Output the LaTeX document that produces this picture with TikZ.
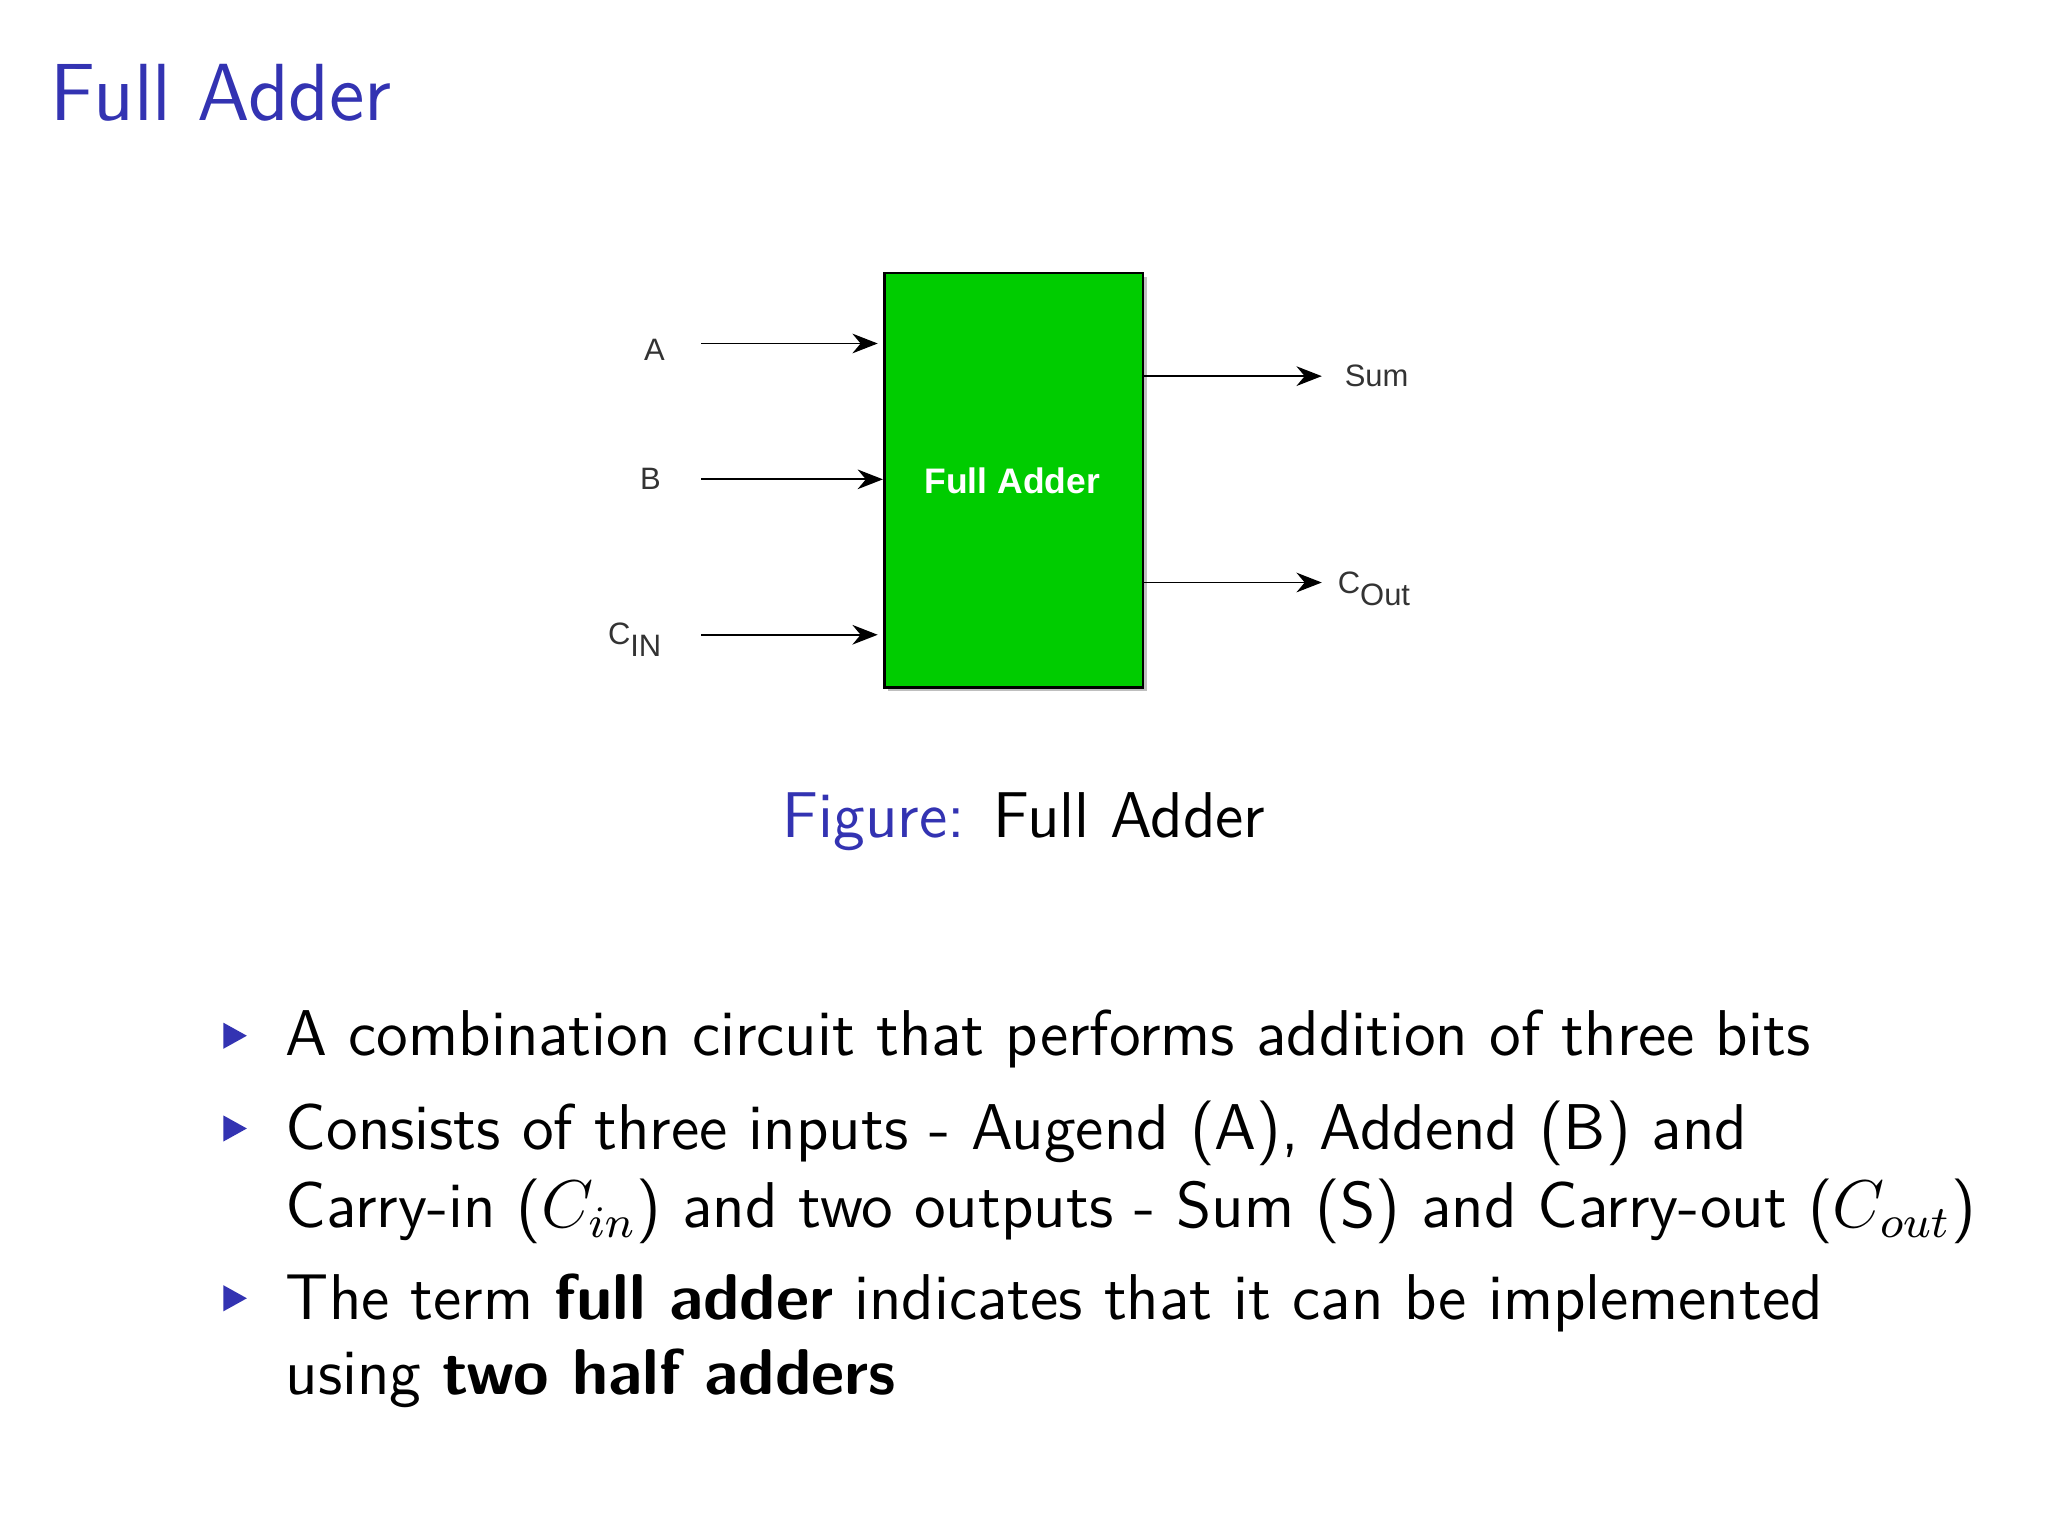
\documentclass[tikz,border=0pt]{standalone}
\usepackage{fontspec}
\newfontfamily\arial{Liberation Sans}
\usetikzlibrary{arrows.meta}
\definecolor{bblue}{RGB}{51,51,178}
\definecolor{fagreen}{RGB}{0,204,0}
\tikzset{
  sig/.style={-{Stealth[length=4.5pt,width=3.5pt]}, line width=0.3pt},
  lbl/.style={font=\arial\fontsize{5.5}{6}\selectfont, text=black!80},
  body/.style={anchor=base west, inner sep=0, font=\sffamily\fontsize{11.5}{13}\selectfont},
  bul/.style={fill=bblue, draw=none},
}
\begin{document}
\begin{tikzpicture}[x=0.2321pt,y=-0.2321pt]
\useasboundingbox (0,0) rectangle (1568,1176);
\fill[white] (0,0) rectangle (1568,1176);
\node[anchor=base west, inner sep=0, text=bblue, font=\sffamily\fontsize{14.4}{16}\selectfont] (title) at (38,92) {Full Adder};
% block
\fill[black!25] (680,212) rectangle (878,529);
\node[draw=black, line width=0.5pt, fill=fagreen, minimum width=198*0.2321pt, minimum height=317*0.2321pt, inner sep=0, anchor=north west] (fa) at (676,208) {};
\node[text=white, font=\arial\bfseries\fontsize{6.3}{7}\selectfont] (fat) at (775,368) {Full Adder};
\coordinate (a0) at (537,263); \coordinate (a1) at (672,263);
\coordinate (b0) at (537,367); \coordinate (b1) at (676,367);
\coordinate (c0) at (537,486); \coordinate (c1) at (672,486);
\coordinate (s0) at (874,288); \coordinate (s1) at (1012,288);
\coordinate (o0) at (874,446); \coordinate (o1) at (1012,446);
\draw[sig] (a0) -- (a1);
\draw[sig] (b0) -- (b1);
\draw[sig] (c0) -- (c1);
\draw[sig] (s0) -- (s1);
\draw[sig] (o0) -- (o1);
\node[lbl] (la) at (501,268) {A};
\node[lbl] (lb) at (498,367) {B};
\node[lbl] (lc) at (487,490) {C$_{\textrm{\arial IN}}$};
\node[lbl] (ls) at (1054,288) {Sum};
\node[lbl] (lo) at (1053,451) {C$_{\textrm{\arial Out}}$};
% caption
\node[anchor=base, inner sep=0, font=\sffamily\fontsize{11.5}{13}\selectfont] (cap) at (784,641) {\textcolor{bblue}{Figure:} Full Adder};
% bullets
\foreach \y in {793,864,994} {\fill[bul] (171,\y-10) -- (189,\y) -- (171,\y+10) -- cycle;}
\node[body] (l1) at (218,808) {A combination circuit that performs addition of three bits};
\node[body] (l2) at (218,880) {Consists of three inputs - Augend (A), Addend (B) and};
\node[body] (l3) at (218,940) {Carry-in ($C_{in}$) and two outputs - Sum (S) and Carry-out ($C_{out}$)};
\node[body] (l4) at (218,1010) {The term \textbf{full adder} indicates that it can be implemented};
\node[body] (l5) at (218,1068) {using \textbf{two half adders}};
\end{tikzpicture}
\end{document}
